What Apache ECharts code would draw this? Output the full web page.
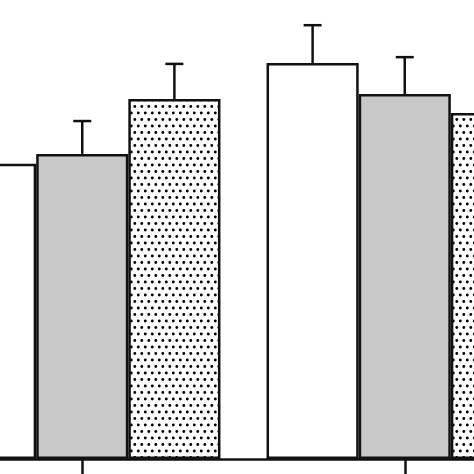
<!DOCTYPE html>
<html>
<head>
<meta charset="utf-8">
<script src="https://cdn.jsdelivr.net/npm/echarts@6/dist/echarts.min.js"></script>
<style>
  html, body { margin: 0; padding: 0; background: #fff; }
  #chart { width: 474px; height: 474px; }
</style>
</head>
<body>
<div id="chart"></div>
<script>
// two groups, three treatments each
const groups = ['A', 'B'];
const whiteVals = [65.6, 88.0];
const whiteErr = [8.0, 8.4];
const grayVals = [67.8, 81.1];
const grayErr = [7.3, 8.2];
const dotVals = [80.0, 76.9];
const dotErr = [7.8, 8.0];

// dotted fill pattern
function makeDots() {
  const c = document.createElement('canvas');
  c.width = 7;
  c.height = 13;
  const g = c.getContext('2d');
  g.fillStyle = '#fff';
  g.fillRect(0, 0, 7, 13);
  g.fillStyle = '#000';
  g.beginPath();
  g.arc(1.8, 2.5, 1.45, 0, Math.PI * 2);
  g.arc(5.3, 9.0, 1.45, 0, Math.PI * 2);
  g.fill();
  return c;
}

const chart = echarts.init(document.getElementById('chart'));

// error bar drawn on top of a bar, offset = -1 / 0 / +1 bar widths
function errSeries(vals, errs, offset) {
  return {
    type: 'custom',
    z: 5,
    data: vals.map((v, i) => [i, v, errs[i]]),
    renderItem: function (params, api) {
      const bandW = api.size([1, 0])[0];
      const barW = bandW * 0.2857;
      const base = api.coord([api.value(0), api.value(1)]);
      const top = api.coord([api.value(0), api.value(1) + api.value(2)]);
      const x = base[0] + offset * barW;
      const style = { stroke: '#111', lineWidth: 2.5 };
      return {
        type: 'group',
        children: [
          { type: 'line', shape: { x1: x, y1: base[1], x2: x, y2: top[1] }, style: style },
          { type: 'line', shape: { x1: x - 9, y1: top[1], x2: x + 9, y2: top[1] }, style: style }
        ]
      };
    }
  };
}

const barBorder = { borderColor: '#111', borderWidth: 2.5 };

chart.setOption({
  backgroundColor: '#fff',
  animation: false,
  grid: { left: -79, right: -92, top: 9, bottom: 15, outerBoundsMode: 'none', containLabel: false },
  xAxis: {
    type: 'category',
    data: groups,
    axisLine: { lineStyle: { color: '#111', width: 2.5 } },
    axisTick: { show: true, alignWithLabel: true, length: 15, lineStyle: { color: '#111', width: 2.5 } },
    axisLabel: { show: false }
  },
  yAxis: {
    type: 'value',
    min: 0,
    max: 100,
    show: false
  },
  series: [
    {
      type: 'bar', data: whiteVals, barWidth: '28.57%', barGap: '0%',
      itemStyle: Object.assign({ color: '#fff' }, barBorder)
    },
    {
      type: 'bar', data: grayVals, barWidth: '28.57%', barGap: '0%',
      itemStyle: Object.assign({ color: '#c8c8c8' }, barBorder)
    },
    {
      type: 'bar', data: dotVals, barWidth: '28.57%', barGap: '0%',
      itemStyle: Object.assign({ color: { image: makeDots(), repeat: 'repeat' } }, barBorder)
    },
    errSeries(whiteVals, whiteErr, -1),
    errSeries(grayVals, grayErr, 0),
    errSeries(dotVals, dotErr, 1)
  ]
});
</script>
</body>
</html>
